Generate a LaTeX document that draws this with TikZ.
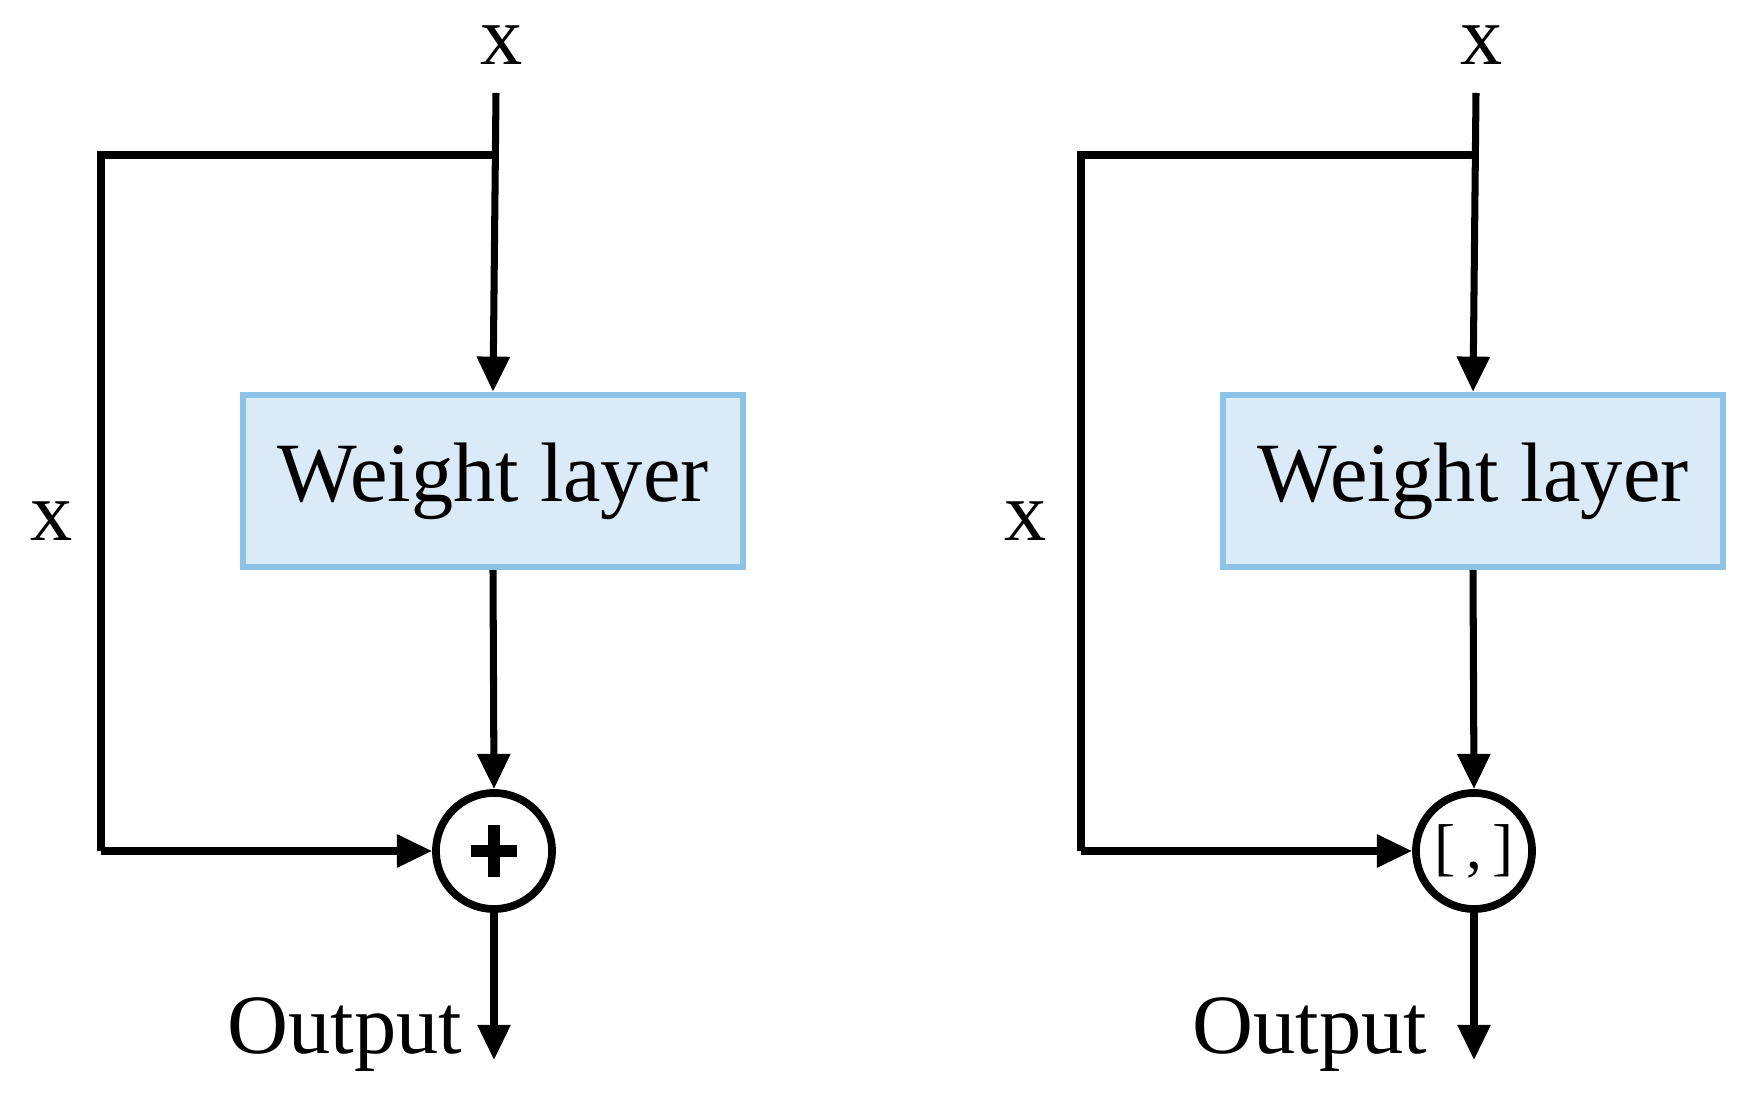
\documentclass[tikz,border=0pt]{standalone}
\usepackage{fontspec}
\setmainfont{Liberation Serif}
\usetikzlibrary{arrows.meta}
\definecolor{bfill}{HTML}{DAEBF7}
\definecolor{bdraw}{HTML}{8DC3E6}
\newcommand{\fatplus}{\makebox[0pt]{\rule[-0.5pt]{13pt}{3.2pt}}\makebox[0pt]{\rule[-6.4pt]{3.2pt}{15pt}}}
\begin{document}
\begin{tikzpicture}[x=0.01cm,y=-0.01cm,
  ln/.style={line width=2pt,-{Triangle[length=10pt,width=9pt]}},
  pl/.style={line width=2pt},
  box/.style={draw=bdraw,fill=bfill,line width=1.8pt,minimum width=5cm,minimum height=1.72cm,inner sep=0pt,font=\fontsize{24}{26}\selectfont},
  op/.style={circle,draw,line width=2.2pt,minimum size=1.16cm,inner sep=0pt},
  lab/.style={font=\fontsize{24}{26}\selectfont,inner sep=0pt}]
\useasboundingbox (0,0) rectangle (1760,1107);
\foreach \n/\ox/\sym/\oxo in {a/0/{\fatplus}/345, b/980/{\fontsize{18}{18}\selectfont [\,,\,]}/330}{
  \node[lab] (\n x) at (502+\ox,45) {x};
  \coordinate (\n t) at (496+\ox,93);
  \coordinate (\n j) at (496+\ox,155);
  \coordinate (\n l) at (101+\ox,155);
  \node[box] (\n w) at (493+\ox,481) {\raisebox{-6pt}{Weight layer}};
  \node[op] (\n c) at (494+\ox,851) {\sym};
  \coordinate (\n bl) at (101+\ox,851);
  \coordinate (\n o) at (494+\ox,1060);
  \node[lab] (\n lx) at (52+\ox-6*\ox/980,521) {x};
  \node[lab] (\n out) at (\oxo+\ox,1035) {Output};
  \draw[ln] (\n t) -- (\n w.north);
  \draw[pl] (\n j) -- (\n l) -- (\n bl);
  \draw[ln] (\n bl) -- (\n c.west);
  \draw[ln] (\n w.south) -- (\n c.north);
  \draw[ln] (\n c.south) -- (\n o);
}
\end{tikzpicture}
\end{document}
